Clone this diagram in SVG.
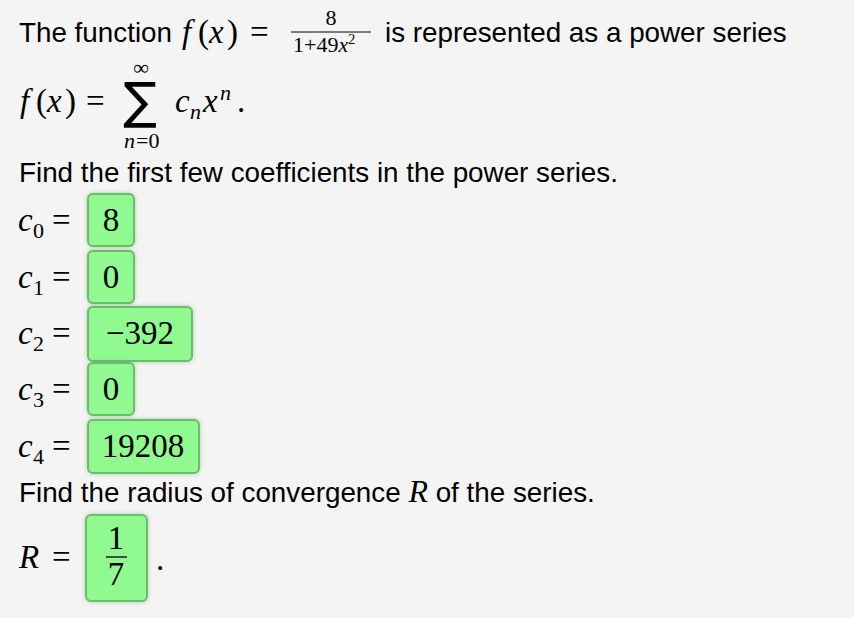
<svg xmlns="http://www.w3.org/2000/svg" width="854" height="618" viewBox="0 0 854 618">
<defs>
<style>
.t{font-family:"Liberation Sans",Arial,sans-serif;font-size:27.8px;fill:#000}
.m{font-family:"Liberation Serif","DejaVu Serif",serif;font-size:33px;fill:#000}
.mi{font-family:"Liberation Serif","DejaVu Serif",serif;font-size:33px;font-style:italic;fill:#000}
.s{font-family:"Liberation Serif","DejaVu Serif",serif;font-size:22px;fill:#000}
.box{fill:#90f990;stroke:#6dbb6d;stroke-width:2}
</style>
<filter id="sh" x="-20%" y="-20%" width="140%" height="140%"><feDropShadow dx="0" dy="0" stdDeviation="2" flood-color="#5a5" flood-opacity="0.5"/></filter>
</defs>
<rect width="854" height="618" fill="#f4f4f4"/>
<text class="t" x="19" y="42">The function</text>
<text class="mi" x="182" y="43">f</text><text class="m" x="198" y="43">(</text><text class="mi" x="209" y="43">x</text><text class="m" x="227" y="43">)</text><text class="m" x="250" y="43">=</text>
<text class="s" x="331" y="25" font-size="20" text-anchor="middle">8</text>
<line x1="291" y1="32" x2="371" y2="32" stroke="#000" stroke-width="1"/>
<text class="s" x="293" y="52" font-size="21">1+49<tspan font-style="italic">x</tspan><tspan font-size="14" dy="-8">2</tspan></text>
<text class="t" x="385" y="42">is represented as a power series</text>
<text class="mi" x="20" y="112">f</text><text class="m" x="36" y="112">(</text><text class="mi" x="47" y="112">x</text><text class="m" x="65" y="112">)</text><text class="m" x="86" y="112">=</text>
<text x="123" y="118" font-family="DejaVu Sans,sans-serif" font-size="50">∑</text>
<text class="s" x="141" y="75" font-size="24" text-anchor="middle">∞</text>
<text class="s" x="124" y="148" font-style="italic">n</text><text class="s" x="136" y="148">=0</text>
<text class="mi" x="175" y="112">c</text><text class="s" x="190" y="119" font-style="italic">n</text><text class="mi" x="203" y="112">x</text><text class="s" x="220" y="100" font-style="italic">n</text><text class="m" x="237" y="112">.</text>
<text class="t" x="19" y="182">Find the first few coefficients in the power series.</text>
<g id="c0"><text class="mi" x="18" y="231">c</text><text class="s" x="33" y="238">0</text><text class="m" x="52" y="231">=</text>
<rect class="box" filter="url(#sh)" x="88" y="194" width="46" height="52" rx="5"/><text class="m" x="111" y="231" text-anchor="middle">8</text></g>
<g id="c1"><text class="mi" x="18" y="288">c</text><text class="s" x="33" y="295">1</text><text class="m" x="52" y="288">=</text>
<rect class="box" filter="url(#sh)" x="88" y="251" width="46" height="52" rx="5"/><text class="m" x="111" y="288" text-anchor="middle">0</text></g>
<g id="c2"><text class="mi" x="18" y="344">c</text><text class="s" x="33" y="351">2</text><text class="m" x="52" y="344">=</text>
<rect class="box" filter="url(#sh)" x="88" y="307" width="104" height="54" rx="5"/><text class="m" x="140" y="344" text-anchor="middle">−392</text></g>
<g id="c3"><text class="mi" x="18" y="400">c</text><text class="s" x="33" y="407">3</text><text class="m" x="52" y="400">=</text>
<rect class="box" filter="url(#sh)" x="88" y="363" width="46" height="52" rx="5"/><text class="m" x="111" y="400" text-anchor="middle">0</text></g>
<g id="c4"><text class="mi" x="18" y="457">c</text><text class="s" x="33" y="464">4</text><text class="m" x="52" y="457">=</text>
<rect class="box" filter="url(#sh)" x="88" y="420" width="111" height="53" rx="5"/><text class="m" x="143" y="457" text-anchor="middle">19208</text></g>
<text class="t" x="19" y="502">Find the radius of convergence <tspan font-family="Liberation Serif,serif" font-style="italic" font-size="32">R</tspan> of the series.</text>
<g id="R"><text class="mi" x="19" y="568">R</text><text class="m" x="52" y="568">=</text>
<rect class="box" filter="url(#sh)" x="86" y="515" width="61" height="86" rx="5"/>
<text class="m" x="116" y="549" text-anchor="middle" font-size="28">1</text>
<line x1="106" y1="557" x2="127" y2="557" stroke="#000" stroke-width="1.3"/>
<text class="m" x="116" y="585" text-anchor="middle" font-size="28">7</text>
<text class="m" x="156" y="570">.</text></g>
</svg>
